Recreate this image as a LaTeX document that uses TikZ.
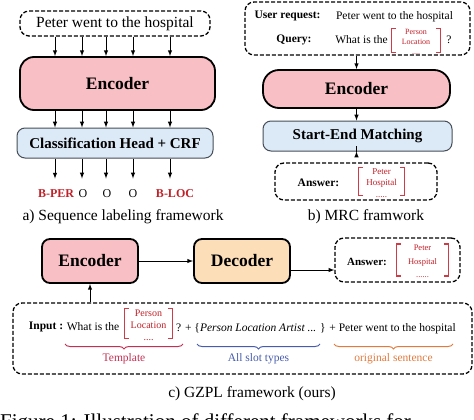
\documentclass[tikz,border=0pt]{standalone}
\usepackage{fontspec}
\setmainfont{Liberation Serif}
\usepackage{xcolor}
\usetikzlibrary{calc, positioning, decorations.pathreplacing}

\definecolor{encpink}{RGB}{248,191,196}
\definecolor{clsblue}{RGB}{220,233,246}
\definecolor{clsline}{RGB}{70,78,88}
\definecolor{decorange}{RGB}{252,222,184}
\definecolor{lred}{RGB}{192,32,40}
\definecolor{bred}{RGB}{208,60,70}
\definecolor{tred}{RGB}{196,48,84}
\definecolor{sblue}{RGB}{70,92,172}
\definecolor{sorange}{RGB}{226,122,62}

\begin{document}
\begin{tikzpicture}[>=latex, x=1pt, y=1pt,
    dbox/.style={draw, line width=1.3pt, dash pattern=on 4pt off 2pt, rounded corners=9pt},
    encbox/.style={draw, line width=1.8pt, fill=encpink, rounded corners=14pt, font=\fontsize{17.5}{20}\selectfont\bfseries},
    clsbox/.style={draw=clsline, line width=1pt, fill=clsblue, rounded corners=8pt, font=\fontsize{15}{18}\selectfont\bfseries},
    lst/.style={align=center, inner sep=0pt, text=lred},
    brk/.style={draw=bred, line width=1.2pt},
    txt/.style={inner sep=0pt, font=\fontsize{11.5}{13}\selectfont},
    btxt/.style={inner sep=0pt, font=\fontsize{11.5}{13}\selectfont\bfseries},
    arr/.style={->, line width=1pt},
    brc/.style={decorate, decoration={brace, mirror, amplitude=5pt}, line width=1pt},
    capt/.style={font=\fontsize{15.5}{18}\selectfont}
]
    \useasboundingbox (0,0) rectangle (474,-420);
    \clip (0,0) rectangle (474,-420);

    % 1. Sequence labeling
    \node[dbox, minimum width=190, minimum height=25, font=\fontsize{15.5}{18}\selectfont] (sentA) at (115,-23.5) {Peter went to the hospital};
    \node[encbox, minimum width=195, minimum height=53] (encA) at (117.5,-83.5) {Encoder};
    \node[clsbox, minimum width=196, minimum height=30] (clsA) at (115,-143) {Classification Head + CRF};
    \foreach \ax in {55,82,106,133,170} {
        \draw[arr] (\ax,0 |- sentA.south) -- (\ax,0 |- encA.north);
        \draw[arr] (\ax,0 |- encA.south) -- (\ax,0 |- clsA.north);
    }
    \foreach \x/\ax/\n/\t/\c/\f in {56/55/lA1/B-PER/lred/\bfseries, 83/82/lA2/O/black/\mdseries, 107/106/lA3/O/black/\mdseries, 133/133/lA4/O/black/\mdseries, 175/170/lA5/B-LOC/lred/\bfseries} {
        \node[anchor=base, text=\c, font=\fontsize{12}{14}\selectfont\f] (\n) at (\x,-197) {\t};
        \draw[arr] (\ax,0 |- clsA.south) -- ($(\ax,0 |- \n.north)+(0,7)$);
    }
    \node[capt] (captA) at (123,-217) {a) Sequence labeling framework};

    % 2. MRC
    \node[dbox, minimum width=225, minimum height=53] (qboxB) at (357.5,-28.5) {};
    \node[btxt] (userB) at (287.5,-16) {User request:};
    \node[txt] (sentB) at (394.5,-17) {Peter went to the hospital};
    \node[btxt] (queryB) at (294,-40) {Query:};
    \node[txt] (whatB) at (361.5,-40) {What is the};
    \node[lst, minimum width=48, font=\fontsize{8}{10}\selectfont] (qB) at (416,-42) {Person\\Location\\....};
    \node[txt] (qmB) at (449,-40) {?};
    \node[encbox, minimum width=187, minimum height=38, rounded corners=16pt] (encB) at (356.5,-89) {Encoder};
    \node[clsbox, minimum width=189, minimum height=30] (smB) at (357.5,-136) {Start-End Matching};
    \node[dbox, minimum width=162, minimum height=37] (aboxB) at (356,-181.5) {};
    \node[btxt] (answerB) at (318.5,-183) {Answer:};
    \node[lst, minimum width=45, font=\fontsize{9}{11.5}\selectfont] (ansB) at (381.5,-183) {Peter\\Hospital\\.....};
    \draw[arr] (qboxB.south -| encB.north) -- (encB.north);
    \draw[arr] (encB.south) -- (encB.south |- smB.north);
    \draw[arr] (smB.south -| encB.south) -- (smB.south -| encB.south |- aboxB.north);
    \node[capt] (captB) at (366,-217) {b) MRC framwork};

    % 3. GZPL
    \node[encbox, minimum width=96, minimum height=44, rounded corners=8pt] (encC) at (90,-261) {Encoder};
    \node[encbox, fill=decorange, minimum width=96, minimum height=44, rounded corners=8pt] (decC) at (242,-261) {Decoder};
    \node[dbox, minimum width=125, minimum height=44] (aboxC) at (397.5,-260) {};
    \node[btxt, font=\fontsize{11}{13}\selectfont\bfseries] (answerC) at (367,-262) {Answer:};
    \node[lst, minimum width=51, font=\fontsize{8.5}{13.5}\selectfont] (ansC) at (422.5,-261.5) {Peter\\Hospital\\......};
    \draw[arr] (encC.east) -- (decC.west);
    \draw[arr] ([yshift=-9pt]decC.east) -- ([yshift=-9pt]decC.east -| aboxC.west);

    \node[dbox, minimum width=459, minimum height=71] (inpC) at (242.5,-338.5) {};
    \draw[arr] (inpC.north -| encC.south) -- (encC.south);
    \node[btxt] (inputC) at (46,-327) {Input :};
    \node[txt] (whatC) at (93,-327) {What is the};
    \node[lst, minimum width=47, font=\fontsize{10}{12}\selectfont] (tplC) at (148.5,-325) {Person\\Location\\....};
    \node[txt, anchor=base west] (restC) at (176,-331) {? + \{\textit{Person Location Artist ...} \} + Peter went to the hospital};

    % 4. Brackets and braces
    \foreach \n in {qB, ansB, ansC, tplC} {
        \draw[brk] ([xshift=4pt, yshift=1pt]\n.north west) -- ([yshift=1pt]\n.north west) -- ([yshift=2pt]\n.south west) -- ([xshift=4pt, yshift=2pt]\n.south west);
        \draw[brk] ([xshift=-4pt, yshift=1pt]\n.north east) -- ([yshift=1pt]\n.north east) -- ([yshift=2pt]\n.south east) -- ([xshift=-4pt, yshift=2pt]\n.south east);
    }
    \draw[brc, tred] (65,-344) -- node[below=9pt, text=tred, txt] (tmplC) {Template} (183,-344);
    \draw[brc, sblue] (197,-344) -- node[below=9pt, text=sblue, txt] (slotC) {All slot types} (320,-344);
    \draw[brc, sorange] (334,-344) -- node[below=9pt, text=sorange, txt] (origC) {original sentence} (453,-344);
    \node[capt] (captC) at (252,-394) {c) GZPL framework (ours)};

    \node[anchor=base west, inner sep=0pt, font=\fontsize{21}{24}\selectfont] (figcap) at (0,-428) {Figure 1: Illustration of different frameworks for};
\end{tikzpicture}
\end{document}
